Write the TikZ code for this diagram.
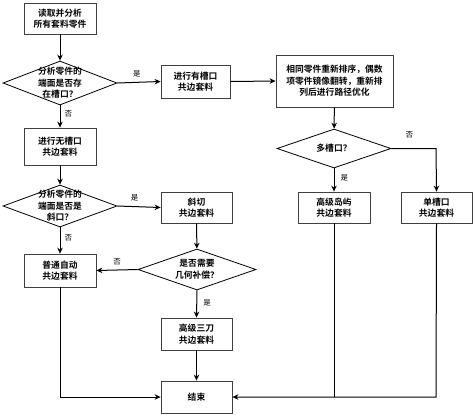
\documentclass[tikz,border=0pt]{standalone}
\usepackage{fontspec}
\setmainfont{Noto Sans CJK SC}[BoldFont={Noto Sans CJK SC Bold}]
\usetikzlibrary{arrows.meta,shapes.geometric,shadows}
\begin{document}
\begin{tikzpicture}[x=1bp,y=-1bp,
  box/.style={draw=black!75,line width=0.8bp,fill=white,inner sep=0pt,align=center,
    font=\bfseries\fontsize{8.8}{11.5}\selectfont,
    drop shadow={opacity=0.25,shadow xshift=1.2bp,shadow yshift=-1.2bp}},
  dia/.style={draw=black,line width=0.8bp,shape=diamond,inner sep=0pt,minimum width=#1},
  txt/.style={align=center,inner sep=0pt,font=\bfseries\fontsize{8.8}{11.5}\selectfont},
  lab/.style={inner sep=0pt,font=\fontsize{7.5}{8}\selectfont},
  arr/.style={draw=black,line width=1bp,-{Stealth[length=6bp,width=5.5bp]}},
  ln/.style={draw=black,line width=1bp}]
\useasboundingbox (0,0) rectangle (474,414);
% left column
\node[box,minimum width=72bp,minimum height=31bp] (b1) at (60,18.5) {读取并分析\\所有套料零件};
\node[dia=114bp,minimum height=44bp] (d1) at (60,83) {};
\node[txt] (t1) at (d1.center) {分析零件的\\端面是否存\\在槽口？};
\node[box,minimum width=72bp,minimum height=37bp] (b2) at (60,146.5) {进行无槽口\\共边套料};
\node[dia=114bp,minimum height=42bp] (d2) at (60,206) {};
\node[txt] (t2) at (d2.center) {分析零件的\\端面是否是\\斜口？};
\node[box,minimum width=72bp,minimum height=33bp] (b3) at (60,270.5) {普通自动\\共边套料};
% middle column
\node[box,minimum width=69bp,minimum height=33bp] (b4) at (195.5,81.5) {进行有槽口\\共边套料};
\node[box,minimum width=71bp,minimum height=31bp] (b5) at (196.5,207.5) {斜切\\共边套料};
\node[dia=118bp,minimum height=41bp] (d3) at (197,269.5) {};
\node[txt] (t3) at (d3.center) {是否需要\\几何补偿？};
\node[box,minimum width=71bp,minimum height=32bp] (b6) at (196.5,334) {高级三刀\\共边套料};
\node[box,minimum width=71bp,minimum height=32bp] (end) at (196.5,397) {结束};
% right column
\node[box,minimum width=117bp,minimum height=52bp] (b7) at (334.5,81) {相同零件重新排序，偶数\\项零件镜像翻转，重新排\\列后进行路径优化};
\node[dia=114bp,minimum height=39bp] (d4) at (334,148.5) {};
\node[txt] (t4) at (d4.center) {多槽口？};
\node[box,minimum width=72bp,minimum height=31bp] (b8) at (334,207.5) {高级岛屿\\共边套料};
\node[box,minimum width=71bp,minimum height=31bp] (b9) at (436.5,207.5) {单槽口\\共边套料};
\coordinate (c1) at (436,148.5);
\coordinate (c2) at (60,397);
\coordinate (c3) at (334,397);
\coordinate (c4) at (436,397);
% connectors
\draw[arr] (b1) -- (d1);
\draw[arr] (d1.east) -- node[lab,above=5bp,pos=0.45] {是} (b4.west);
\draw[arr] (d1.south) -- node[lab,right=4bp,pos=0.4] {否} (b2.north);
\draw[arr] (b2) -- (d2);
\draw[arr] (d2.east) -- node[lab,above=5bp,pos=0.4] {是} (b5.west);
\draw[arr] (d2.south) -- node[lab,right=4bp,pos=0.4] {否} (b3.north);
\draw[arr] (b5) -- (d3);
\draw[arr] (d3.west) -- node[lab,above=4bp,pos=0.5] {否} (b3.east);
\draw[arr] (d3.south) -- node[lab,right=6bp,pos=0.45] {是} (b6.north);
\draw[arr] (b6) -- (end);
\draw[arr] (b3.south) -- (c2) -- (end.west);
\draw[arr] (b4.east) -- (b7.west);
\draw[arr] (b7) -- (d4);
\draw[arr] (d4.south) -- node[lab,right=6bp,pos=0.4] {是} (b8.north);
\draw[arr] (d4.east) -- node[lab,above=10bp,pos=0.4] {否} (c1) -- (b9.north);
\draw[ln] (b8.south) -- (c3);
\draw[arr] (b9.south) -- (c4) -- (end.east);
\end{tikzpicture}
\end{document}
